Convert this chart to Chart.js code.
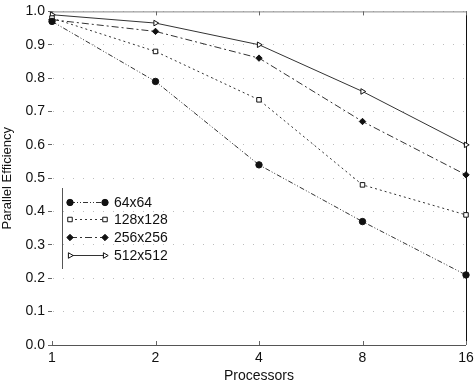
<!DOCTYPE html>
<html>
<head>
<meta charset="utf-8">
<script src="https://cdn.jsdelivr.net/npm/chart.js@4/dist/chart.umd.min.js"></script>
<style>
  html, body { margin: 0; padding: 0; background: #fff; }
  #wrap { width: 474px; height: 381px; }
</style>
</head>
<body>
<div id="wrap"><canvas id="chart" width="474" height="381"></canvas></div>
<script>
// Chart data
const processors = ['1', '2', '4', '8', '16'];
const yTicks = [0, 0.1, 0.2, 0.3, 0.4, 0.5, 0.6, 0.7, 0.8, 0.9, 1.0];
const seriesNames = ['64x64', '128x128', '256x256', '512x512'];
const eff64 = [0.97, 0.79, 0.54, 0.37, 0.21];
const eff128 = [0.98, 0.88, 0.735, 0.48, 0.39];
const eff256 = [0.975, 0.94, 0.86, 0.67, 0.51];
const eff512 = [0.99, 0.965, 0.90, 0.76, 0.60];

const FONT = '"Liberation Sans", Arial, sans-serif';

// Legend drawn in the plot like the original (line sample with markers at both ends)
const inlineLegend = {
    id: 'inlineLegend',
    afterDraw(chart) {
        const ctx = chart.ctx;
        ctx.save();
        // little bracket line at left of legend
        ctx.strokeStyle = '#555';
        ctx.lineWidth = 1;
        ctx.beginPath();
        ctx.moveTo(62.5, 188);
        ctx.lineTo(62.5, 269);
        ctx.stroke();

        const rows = [202, 219, 237, 255];
        chart.data.datasets.forEach((ds, i) => {
            const y = rows[i];
            ctx.strokeStyle = ds.borderColor;
            ctx.lineWidth = 1;
            ctx.setLineDash(ds.borderDash || []);
            ctx.beginPath();
            ctx.moveTo(70, y + 0.5);
            ctx.lineTo(105, y + 0.5);
            ctx.stroke();
            ctx.setLineDash([]);
            const opts = {
                pointStyle: ds.pointStyle,
                radius: ds.pointRadius,
                rotation: ds.pointRotation || 0,
                borderWidth: 1
            };
            [70, 105].forEach(px => {
                ctx.fillStyle = ds.pointBackgroundColor;
                ctx.strokeStyle = ds.pointBorderColor;
                Chart.helpers.drawPoint(ctx, opts, px, y + 0.5);
            });

            ctx.fillStyle = '#111';
            ctx.font = '14px ' + FONT;
            ctx.textBaseline = 'middle';
            ctx.textAlign = 'left';
            ctx.fillText(ds.label, 114, y + 1);
        });
        ctx.restore();
    }
};

// Frame around the plot area
const frame = {
    id: 'frame',
    beforeDatasetsDraw(chart) {
        const { left, right, top, bottom } = chart.chartArea;
        const ctx = chart.ctx;
        ctx.save();
        ctx.lineWidth = 1;
        // top
        ctx.strokeStyle = '#888';
        ctx.beginPath();
        ctx.moveTo(left, top + 0.5);
        ctx.lineTo(right, top + 0.5);
        ctx.stroke();
        // bottom
        ctx.strokeStyle = '#555';
        ctx.beginPath();
        ctx.moveTo(left, bottom + 0.5);
        ctx.lineTo(right, bottom + 0.5);
        ctx.stroke();
        // right
        ctx.strokeStyle = '#111';
        ctx.beginPath();
        ctx.moveTo(right + 0.5, top);
        ctx.lineTo(right + 0.5, bottom);
        ctx.stroke();
        // small ticks under the top edge
        ctx.strokeStyle = '#666';
        chart.scales.x.ticks.forEach((t, i) => {
            const px = Math.round(chart.scales.x.getPixelForTick(i)) + 0.5;
            ctx.beginPath();
            ctx.moveTo(px, top);
            ctx.lineTo(px, top + 4);
            ctx.moveTo(px, bottom);
            ctx.lineTo(px, bottom - 4);
            ctx.stroke();
        });
        ctx.restore();
    }
};

function series(label, data, dash, style, filled, rotation) {
    return {
        label: label,
        data: data,
        borderColor: '#333',
        borderWidth: 1,
        borderDash: dash,
        pointStyle: style,
        pointRadius: 3.2,
        pointRotation: rotation || 0,
        pointBackgroundColor: filled ? '#111' : '#fff',
        pointBorderColor: '#111',
        pointBorderWidth: 1,
        tension: 0,
        fill: false
    };
}

new Chart(document.getElementById('chart'), {
    type: 'line',
    data: {
        labels: processors,
        datasets: [
            series(seriesNames[0], eff64, [5, 2, 1, 2, 1, 2], 'circle', true),
            series(seriesNames[1], eff128, [2, 3], 'rect', false),
            series(seriesNames[2], eff256, [7, 3, 2, 3], 'rectRot', true),
            series(seriesNames[3], eff512, [], 'triangle', false, 90)
        ]
    },
    options: {
        responsive: false,
        animation: false,
        layout: { padding: { left: 0, right: 0, top: 6, bottom: 0 } },
        plugins: {
            legend: { display: false },
            tooltip: { enabled: false }
        },
        scales: {
            x: {
                type: 'category',
                offset: false,
                grid: { display: false, drawTicks: false },
                border: { display: false },
                ticks: {
                    color: '#111',
                    font: { family: FONT, size: 14 },
                    padding: 5,
                    maxRotation: 0
                },
                title: {
                    display: true,
                    text: 'Processors',
                    color: '#111',
                    font: { family: FONT, size: 14 },
                    padding: { top: 0, bottom: -4 }
                },
                afterFit: s => {
                    s.height = 36;
                    s.paddingRight = 8;
                }
            },
            y: {
                min: 0,
                max: 1,
                afterBuildTicks: s => { s.ticks = yTicks.map(v => ({ value: v })); },
                grid: {
                    color: '#bdbdbd',
                    lineWidth: 1,
                    tickLength: 4,
                    tickColor: '#666',
                    tickBorderDash: []
                },
                border: { display: true, color: 'rgba(0,0,0,0)', dash: [1, 9] },
                ticks: {
                    color: '#111',
                    font: { family: FONT, size: 14 },
                    padding: 3,
                    callback: v => Number(v).toFixed(1)
                },
                title: {
                    display: true,
                    text: 'Parallel Efficiency',
                    color: '#111',
                    font: { family: FONT, size: 13 },
                    padding: { top: 0, bottom: 1 }
                },
                afterFit: s => { s.width = 52; }
            }
        }
    },
    plugins: [frame, inlineLegend]
});
</script>
</body>
</html>
